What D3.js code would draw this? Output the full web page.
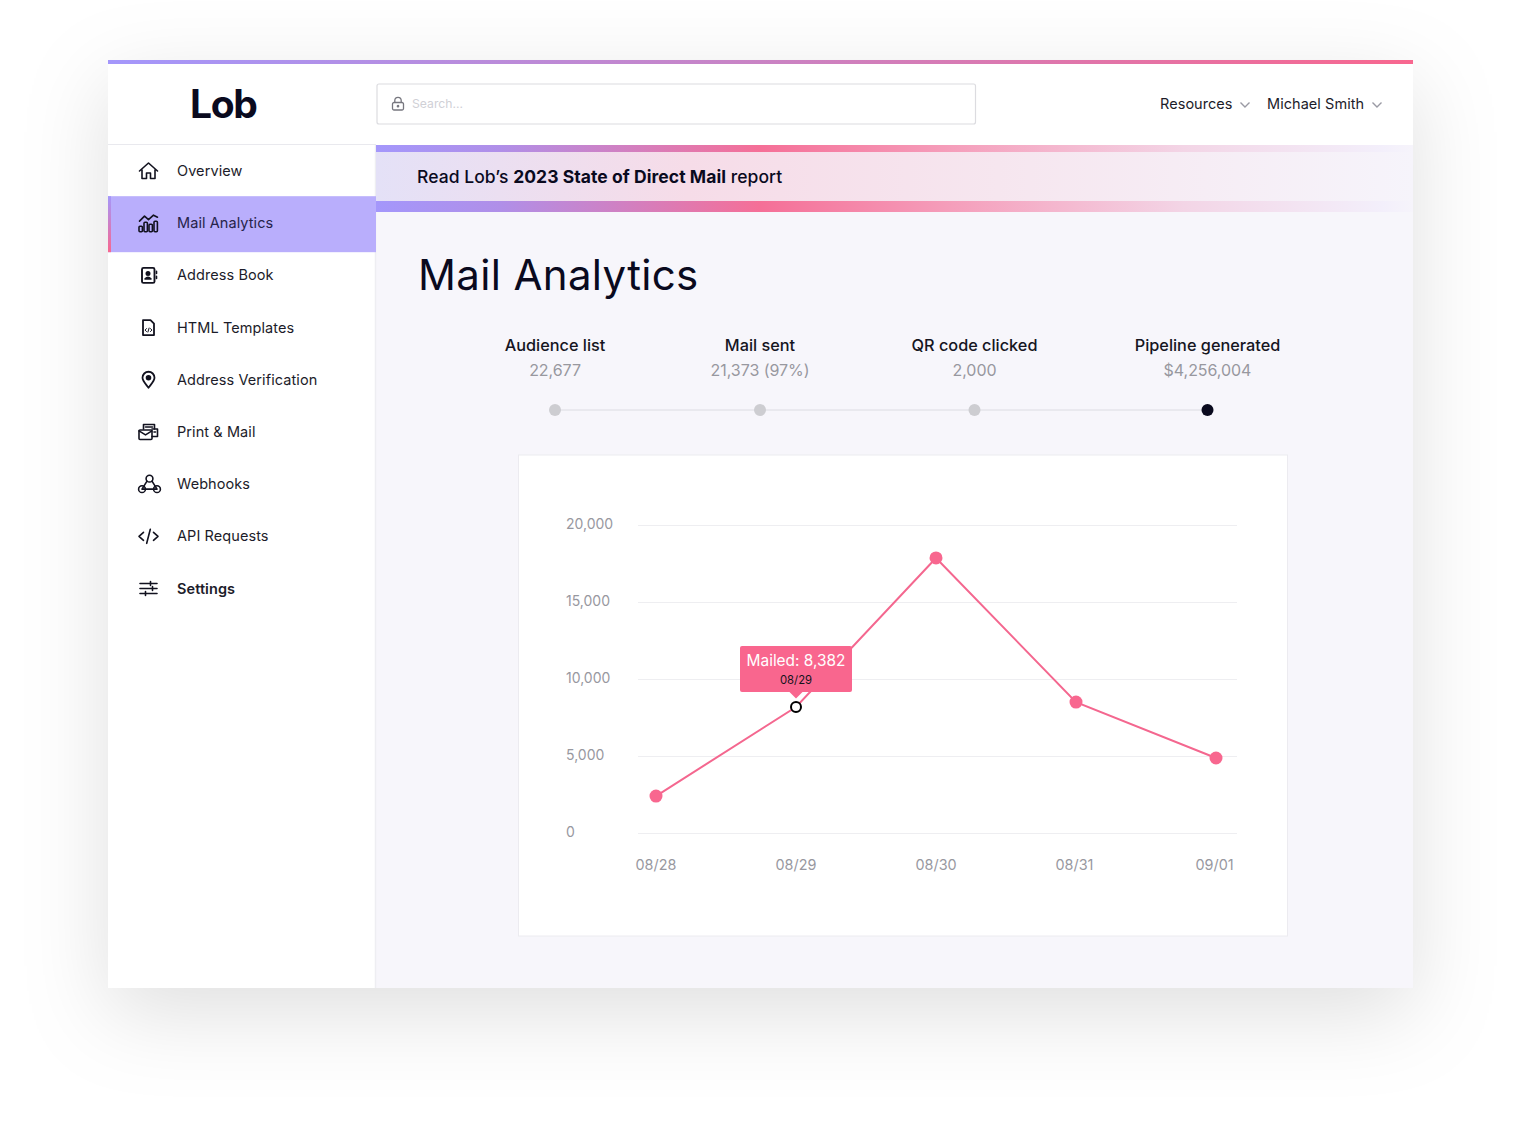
<!DOCTYPE html>
<html>
<head>
<meta charset="utf-8">
<script src="https://cdn.jsdelivr.net/npm/d3@7"></script>
<style>
  html, body { margin: 0; background: #fff; }
  svg { display: block; font-family: Inter, "Noto Sans", sans-serif; }
</style>
</head>
<body>
<script>
// Chart data
const dates = ["08/28", "08/29", "08/30", "08/31", "09/01"];
const mailed = [2400, 8180, 17860, 8500, 4870];
const yTicks = [0, 5000, 10000, 15000, 20000];
const tooltipIndex = 1;
const tooltipLabel = "Mailed: 8,382";

// Funnel steps
const stepNames = ["Audience list", "Mail sent", "QR code clicked", "Pipeline generated"];
const stepValues = ["22,677", "21,373 (97%)", "2,000", "$4,256,004"];

// Sidebar
const navItems = ["Overview", "Mail Analytics", "Address Book", "HTML Templates", "Address Verification", "Print & Mail", "Webhooks", "API Requests", "Settings"];
const activeNav = "Mail Analytics";
const boldNav = "Settings";

const width = 1518, height = 1140;
const svg = d3.select("body").append("svg").attr("width", width).attr("height", height);
const defs = svg.append("defs");

const shadow = defs.append("filter").attr("id", "cardShadow").attr("filterUnits", "userSpaceOnUse")
    .attr("x", 0).attr("y", 0).attr("width", width).attr("height", height);
shadow.append("feDropShadow").attr("dx", 0).attr("dy", 25).attr("stdDeviation", 42)
    .attr("flood-color", "#000").attr("flood-opacity", 0.125);

function gradient(id, stops) {
    const g = defs.append("linearGradient").attr("id", id);
    stops.forEach(s => g.append("stop").attr("offset", s[0]).attr("stop-color", s[1]));
}
gradient("topBar", [[0, "#a497fb"], [0.5, "#c983c4"], [1, "#f8678f"]]);
gradient("bannerBar", [[0, "#a497fb"], [0.12, "#b08fe8"], [0.37, "#f56f97"], [0.55, "#f59dba"], [0.78, "#f3d5e6"], [0.97, "#f3effb"], [1, "#f6f4fb"]]);
gradient("bannerBg", [[0, "#e4e1f7"], [0.3, "#f6dce8"], [0.6, "#f6e6ef"], [1, "#f6f4fb"]]);
defs.append("linearGradient").attr("id", "activeEdge").attr("x2", 0).attr("y2", 1)
    .call(g => {
        g.append("stop").attr("offset", 0).attr("stop-color", "#a497fb");
        g.append("stop").attr("offset", 1).attr("stop-color", "#f8678f");
    });

// Card
svg.append("rect").attr("x", 108).attr("y", 60).attr("width", 1305).attr("height", 928)
    .attr("fill", "#fff").attr("filter", "url(#cardShadow)");
svg.append("rect").attr("x", 376).attr("y", 145).attr("width", 1037).attr("height", 843).attr("fill", "#f7f6fb");
svg.append("rect").attr("x", 108).attr("y", 60).attr("width", 1305).attr("height", 4).attr("fill", "url(#topBar)");

// Header
svg.append("line").attr("x1", 108).attr("x2", 376).attr("y1", 144.5).attr("y2", 144.5).attr("stroke", "#e9e9ee");
svg.append("line").attr("x1", 375.5).attr("x2", 375.5).attr("y1", 145).attr("y2", 988).attr("stroke", "#eeeef2").attr("stroke-width", 1.5);
svg.append("text").attr("x", 190).attr("y", 118).attr("font-size", 39).attr("font-weight", 700)
    .attr("letter-spacing", -1.4).attr("fill", "#0a0a1e").text("Lob");

svg.append("rect").attr("x", 377).attr("y", 84).attr("width", 598.5).attr("height", 40).attr("rx", 2)
    .attr("fill", "#fff").attr("stroke", "#dcdce0").attr("stroke-width", 1.2);
const lock = svg.append("g").attr("transform", "translate(398,104)")
    .attr("fill", "none").attr("stroke", "#77777f").attr("stroke-width", 1.3);
lock.append("rect").attr("x", -5.5).attr("y", -1.5).attr("width", 11).attr("height", 7.5).attr("rx", 1.5);
lock.append("path").attr("d", "M-3.2,-1.5V-3.5a3.2,3.2 0 0 1 6.4,0V-1.5");
lock.append("circle").attr("cx", 0).attr("cy", 2.2).attr("r", 0.7).attr("fill", "#77777f");
svg.append("text").attr("x", 412).attr("y", 108).attr("font-size", 12.2).attr("fill", "#d0d0d6").text("Search...");

[["Resources", 1160, 1245], ["Michael Smith", 1267, 1377]].forEach(d => {
    svg.append("text").attr("x", d[1]).attr("y", 109).attr("font-size", 14.5).attr("letter-spacing", 0.05).attr("fill", "#1c1c2a").text(d[0]);
    svg.append("path").attr("d", `M${d[2] - 4.5},102.5 l4.5,4.5 l4.5,-4.5`).attr("fill", "none")
        .attr("stroke", "#9a9aa4").attr("stroke-width", 1.4);
});

// Banner
svg.append("rect").attr("x", 376).attr("y", 145).attr("width", 1037).attr("height", 67).attr("fill", "url(#bannerBg)");
svg.append("rect").attr("x", 376).attr("y", 145).attr("width", 1037).attr("height", 7).attr("fill", "url(#bannerBar)");
svg.append("rect").attr("x", 376).attr("y", 201).attr("width", 1037).attr("height", 11).attr("fill", "url(#bannerBar)");
const banner = svg.append("text").attr("x", 417).attr("y", 183).attr("font-size", 17.5).attr("font-weight", 500)
    .attr("letter-spacing", 0.06).attr("fill", "#0a0a1e");
banner.append("tspan").text("Read Lob’s ");
banner.append("tspan").attr("font-weight", 700).text("2023 State of Direct Mail");
banner.append("tspan").text(" report");

// Sidebar
const navY = d3.scalePoint().domain(navItems).range([171, 588.5]);
svg.append("rect").attr("x", 108).attr("y", navY(activeNav) - 27).attr("width", 268).attr("height", 56).attr("fill", "#b9aefc");
svg.append("rect").attr("x", 108).attr("y", navY(activeNav) - 27).attr("width", 3).attr("height", 56).attr("fill", "url(#activeEdge)");

const icons = {
    "Overview": g => g.append("path").attr("d", "M-9,0 L0,-8 L9,0 M-6.5,-1 V7.5 H-2 V2 H2 V7.5 H6.5 V-1"),
    "Mail Analytics": g => {
        g.append("path").attr("d", "M-9,-2 L-4,-7 L0,-3.5 L5,-8 L9,-6");
        [[-9.5, 3], [-4.5, -1], [0.5, 1], [5.5, -2]].forEach(b => {
            g.append("rect").attr("x", b[0]).attr("y", b[1]).attr("width", 3.4).attr("height", 8.5 - b[1]).attr("rx", 1);
        });
    },
    "Address Book": g => {
        g.append("rect").attr("x", -6.5).attr("y", -7.5).attr("width", 12.5).attr("height", 15).attr("rx", 1.5).attr("stroke-width", 1.9);
        g.append("path").attr("d", "M8,-4 V-2 M8,1 V3");
        g.append("circle").attr("cx", -0.5).attr("cy", -2).attr("r", 1.7).attr("fill", "#12121f");
        g.append("path").attr("d", "M-3.5,3.6 Q-0.5,0 2.5,3.6 Z").attr("fill", "#12121f");
    },
    "HTML Templates": g => {
        g.append("path").attr("d", "M-5.5,-7.5 H2 L5.5,-4 V7.5 H-5.5 Z").attr("stroke-width", 1.8);
        g.append("path").attr("d", "M-2,1 L-3.4,2.5 L-2,4 M2,1 L3.4,2.5 L2,4 M0.6,0.5 L-0.6,4.5").attr("stroke-width", 1);
    },
    "Address Verification": g => {
        g.append("path").attr("d", "M0,8 C-3,4 -6,1 -6,-2 A6,6 0 0 1 6,-2 C6,1 3,4 0,8 Z").attr("stroke-width", 1.8);
        g.append("circle").attr("cx", 0).attr("cy", -2).attr("r", 2).attr("fill", "#12121f");
    },
    "Print & Mail": g => {
        g.append("path").attr("d", "M-5,-3 V-7.5 H6 V-3 M-3,-5 H4");
        g.append("path").attr("d", "M3.5,-3 H9 V4.5 H3.5");
        g.append("rect").attr("x", -9.5).attr("y", -2).attr("width", 13).attr("height", 9.5).attr("rx", 1);
        g.append("path").attr("d", "M-9.5,-1 L-3,3 L3.5,-1");
        g.append("path").attr("d", "M5.5,0 H7");
    },
    "Webhooks": g => {
        g.append("circle").attr("cx", 1).attr("cy", -5.5).attr("r", 3.4);
        g.append("circle").attr("cx", -6.5).attr("cy", 5).attr("r", 3.4);
        g.append("circle").attr("cx", 8.5).attr("cy", 5).attr("r", 3.4);
        g.append("path").attr("d", "M-1.5,-3 L-6.5,5 M3.5,-3 L8.5,5 M-6.5,5 H8.5");
    },
    "API Requests": g => g.append("path").attr("d", "M-5,-4 L-9.5,0 L-5,4 M5,-4 L9.5,0 L5,4 M1.8,-7 L-1.8,7"),
    "Settings": g => {
        g.append("path").attr("d", "M-8.5,-5 H8.5 M-8.5,0 H8.5 M-8.5,5 H8.5");
        g.append("path").attr("d", "M2,-7 V-3 M4,-2 V2 M-3,3 V7");
    }
};

const nav = svg.append("g").selectAll("g").data(navItems).join("g")
    .attr("transform", d => `translate(0,${navY(d)})`);
nav.append("g").attr("transform", "translate(148.5,0)")
    .attr("fill", "none").attr("stroke", "#12121f").attr("stroke-width", 1.6)
    .attr("stroke-linejoin", "round").attr("stroke-linecap", "round")
    .each(function(d) { icons[d](d3.select(this)); });
nav.append("text").attr("x", 177).attr("y", 5).attr("font-size", 14.5)
    .attr("letter-spacing", 0.08)
    .attr("font-weight", d => d === boldNav ? 600 : 400)
    .attr("fill", d => d === activeNav ? "#26234a" : "#1c1c2a")
    .text(d => d);

// Page title
svg.append("text").attr("x", 418).attr("y", 290).attr("font-size", 42).attr("font-weight", 400)
    .attr("letter-spacing", 0.35).attr("fill", "#0a0a1e").text("Mail Analytics");

// Funnel
const stepX = d3.scaleOrdinal().domain(stepNames).range([555, 760, 974.5, 1207.5]);
svg.append("line").attr("x1", stepX(stepNames[0])).attr("x2", stepX(stepNames[3]))
    .attr("y1", 410).attr("y2", 410).attr("stroke", "#dcdce2");
const step = svg.append("g").selectAll("g").data(stepNames).join("g")
    .attr("transform", d => `translate(${stepX(d)},0)`).attr("text-anchor", "middle");
step.append("text").attr("y", 351).attr("font-size", 16.3).attr("font-weight", 500).attr("fill", "#15151f").text(d => d);
step.append("text").attr("y", 376).attr("font-size", 16).attr("letter-spacing", -0.05).attr("fill", "#98989f").text((d, i) => stepValues[i]);
step.append("circle").attr("cy", 410).attr("r", 6)
    .attr("fill", (d, i) => i === stepNames.length - 1 ? "#0a0a1e" : "#cdcdd1");

// Chart
svg.append("rect").attr("x", 518.5).attr("y", 455).attr("width", 769).attr("height", 481)
    .attr("fill", "#fff").attr("stroke", "#ecebf0");

const x = d3.scalePoint().domain(dates).range([656, 1216]);
const y = d3.scaleLinear().domain([0, 20000]).range([833, 525]);

const yAxis = svg.append("g").attr("transform", "translate(638,0)")
    .call(d3.axisLeft(y).tickValues(yTicks).tickFormat(d3.format(",")).tickSize(-599).tickPadding(0));
yAxis.select(".domain").remove();
yAxis.selectAll(".tick line").attr("stroke", "#eeeef1");
yAxis.selectAll(".tick text").attr("text-anchor", "start").attr("x", -72).attr("dy", "0.25em")
    .attr("font-size", 14).attr("font-family", "Inter").attr("fill", "#98989f");

const xAxis = svg.append("g").attr("transform", "translate(0,833)")
    .call(d3.axisBottom(x).tickSize(0).tickPadding(25));
xAxis.select(".domain").remove();
xAxis.selectAll(".tick text").attr("text-anchor", "start").attr("x", -21).attr("y", 27)
    .attr("font-size", 14.4).attr("font-family", "Inter").attr("fill", "#98989f");

svg.append("path").datum(mailed)
    .attr("fill", "none").attr("stroke", "#f4678f").attr("stroke-width", 2)
    .attr("d", d3.line().x((d, i) => x(dates[i])).y(d => y(d)));

svg.append("g").selectAll("circle").data(mailed).join("circle")
    .attr("cx", (d, i) => x(dates[i])).attr("cy", d => y(d))
    .attr("r", (d, i) => i === tooltipIndex ? 5 : 6.5)
    .attr("fill", (d, i) => i === tooltipIndex ? "#fff" : "#f8678f")
    .attr("stroke", (d, i) => i === tooltipIndex ? "#000" : "none")
    .attr("stroke-width", 2);

// Tooltip sits just above the hovered point
const tipX = x(dates[tooltipIndex]), tipY = y(mailed[tooltipIndex]);
const tip = svg.append("g").attr("transform", `translate(${tipX},${tipY})`);
tip.append("rect").attr("x", -56).attr("y", -61).attr("width", 112).attr("height", 46).attr("rx", 2).attr("fill", "#f9668e");
tip.append("path").attr("d", "M-7,-15.5 L0,-8.5 L7,-15.5 Z").attr("fill", "#f9668e");
tip.append("text").attr("text-anchor", "middle").attr("y", -41.5).attr("font-size", 15.4).attr("fill", "#fff").text(tooltipLabel);
tip.append("text").attr("text-anchor", "middle").attr("y", -23).attr("font-size", 11.3).attr("fill", "#14141c").text(dates[tooltipIndex]);
</script>
</body>
</html>
